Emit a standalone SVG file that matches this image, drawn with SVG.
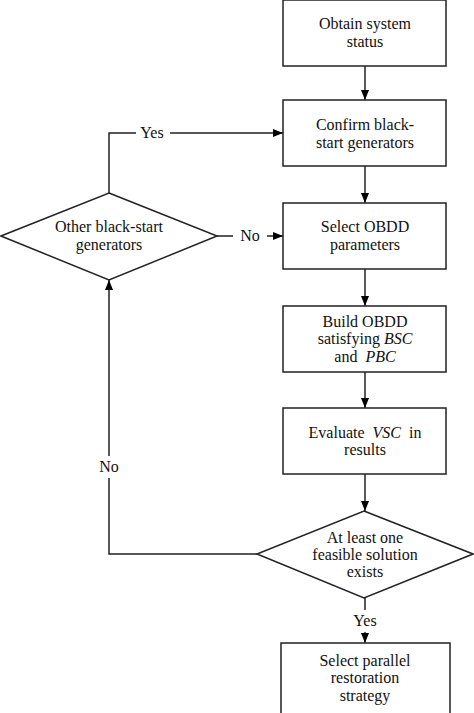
<svg xmlns="http://www.w3.org/2000/svg" width="474" height="713" viewBox="0 0 474 713">
<defs>
<marker id="ah" markerWidth="10" markerHeight="8" refX="10" refY="4" orient="auto" markerUnits="userSpaceOnUse">
<path d="M0,0 L10,4 L0,8 Z" fill="#000"/>
</marker>
<style>
.box{fill:#fff;stroke:#222;stroke-width:1.5}
.ln{fill:none;stroke:#222;stroke-width:1.5}
text{fill:#111;text-anchor:middle;font-family:Liberation Serif, DejaVu Serif, serif;font-size:16px}
</style>
</defs>
<rect width="474" height="713" fill="#fff"/>
<g id="connectors">
<line class="ln" x1="365" y1="66" x2="365" y2="100" marker-end="url(#ah)"/>
<line class="ln" x1="365" y1="166" x2="365" y2="203" marker-end="url(#ah)"/>
<line class="ln" x1="365" y1="269" x2="365" y2="306" marker-end="url(#ah)"/>
<line class="ln" x1="365" y1="372" x2="365" y2="408" marker-end="url(#ah)"/>
<line class="ln" x1="365" y1="474" x2="365" y2="511" marker-end="url(#ah)"/>
<path class="ln" d="M365,598 V610 M365,632 V643" marker-end="url(#ah)"/>
<path class="ln" d="M109,193 V133 H136 M170,133 H283" marker-end="url(#ah)"/>
<path class="ln" d="M217,236 H233 M267,236 H283" marker-end="url(#ah)"/>
<path class="ln" d="M257,554 H109 V478 M109,456 V280" marker-end="url(#ah)"/>
<text x="152" y="138">Yes</text>
<text x="250" y="241">No</text>
<text x="109" y="472">No</text>
<text x="365" y="626">Yes</text>
</g>
<g id="n1">
<rect class="box" x="283" y="0" width="163" height="66"/>
<text x="365" y="29">Obtain system</text>
<text x="365" y="47">status</text>
</g>
<g id="n2">
<rect class="box" x="283" y="100" width="163" height="66"/>
<text x="365" y="130">Confirm black-</text>
<text x="365" y="148">start generators</text>
</g>
<g id="n3">
<rect class="box" x="283" y="203" width="163" height="66"/>
<text x="365" y="232">Select OBDD</text>
<text x="365" y="250">parameters</text>
</g>
<g id="n4">
<rect class="box" x="283" y="306" width="163" height="66"/>
<text x="365" y="327">Build OBDD</text>
<text x="365" y="344">satisfying <tspan font-style="italic">BSC</tspan></text>
<text x="365" y="362" xml:space="preserve">and  <tspan font-style="italic">PBC</tspan></text>
</g>
<g id="n5">
<rect class="box" x="283" y="408" width="163" height="66"/>
<text x="365" y="438" xml:space="preserve">Evaluate  <tspan font-style="italic">VSC</tspan>  in</text>
<text x="365" y="455">results</text>
</g>
<g id="d1">
<polygon class="box" points="109,193 217,236 109,280 1,236"/>
<text x="109" y="232">Other black-start</text>
<text x="109" y="250">generators</text>
</g>
<g id="d2">
<polygon class="box" points="364,511 473,554 364,598 257,554"/>
<text x="365" y="543">At least one</text>
<text x="365" y="560">feasible solution</text>
<text x="365" y="577">exists</text>
</g>
<g id="n6">
<rect class="box" x="281" y="643" width="169" height="72"/>
<text x="365" y="666">Select parallel</text>
<text x="365" y="683">restoration</text>
<text x="365" y="701">strategy</text>
</g>
</svg>
